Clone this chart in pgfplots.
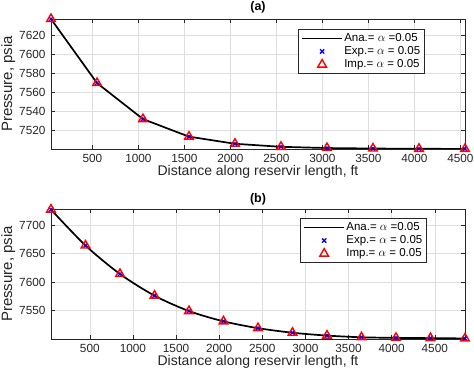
\documentclass[border=0pt]{standalone}
\usepackage{fontspec}
\setmainfont{Liberation Sans}
\usepackage{pgfplots}
\pgfplotsset{compat=1.18}
\definecolor{axgray}{RGB}{38,38,38}
\definecolor{gridgray}{RGB}{222,222,222}
\pgfplotsset{
  matstyle/.style={
    scale only axis, width=414pt, height=130pt,
    axis line style={axgray, line width=0.6pt},
    every tick/.style={axgray, line width=0.6pt},
    major tick length=4pt,
    tick align=inside,
    grid=major, grid style={gridgray, line width=0.5pt},
    tick label style={font=\fontsize{11.8}{13}\selectfont, text=axgray},
    xticklabel style={anchor=center, yshift=-9.5pt},
    yticklabel style={anchor=east, xshift=-2pt},
    /pgf/number format/assume math mode=true,
    /pgf/number format/1000 sep={},
    xtick={500,1000,...,4500},
    xlabel={Distance along reservir length, ft},
    ylabel={Pressure, psia},
    xlabel style={font=\fontsize{14}{16}\selectfont, text=axgray, at={(axis description cs:0.5,0)}, anchor=center, yshift=-23pt},
    ylabel style={font=\fontsize{15}{17}\selectfont, text=axgray, at={(axis description cs:-0.103,0.5)}, anchor=center},
    title style={font=\bfseries\fontsize{12.5}{14}\selectfont, at={(axis description cs:0.5,1)}, anchor=center},
    legend style={font=\fontsize{11.5}{13}\selectfont, draw=axgray, line width=0.6pt, fill=white,
      anchor=north east, inner xsep=3pt, inner ysep=2.5pt, row sep=0pt,
      nodes={text height=8pt, text depth=2.5pt, inner sep=1.3pt}},
    legend cell align=left,
  },
  ana/.style={black, line width=1.7pt, no marks,
    legend image code/.code={\draw[##1] (0pt,0pt) -- (40pt,0pt);}},
  expm/.style={blue, only marks, mark=x, mark size=3pt, line width=1.3pt,
    legend image code/.code={\path[draw=none,fill=none] (0pt,0pt) -- (40pt,0pt);
      \draw[##1, only marks] plot coordinates {(20pt,0pt)};}},
  impm/.style={red, only marks, mark=triangle, mark size=5pt, line width=1.4pt,
    legend image code/.code={\path[draw=none,fill=none] (0pt,0pt) -- (40pt,0pt);
      \draw[##1, only marks] plot coordinates {(20pt,0pt)};}},
}
\begin{document}
\begin{tikzpicture}
\useasboundingbox (0,0) rectangle (474pt,377pt);
% (a)
\begin{axis}[matstyle, at={(51pt,228pt)}, anchor=south west,
  xmin=50, xmax=4550, ymin=7500, ymax=7637,
  ytick={7520,7540,...,7620},
  title={(a)}, title style={yshift=5.5pt},
  legend style={at={(0.903,0.923)}}]
\addplot[ana] coordinates {(50,7637) (550,7569.5) (1050,7531.5) (1550,7513) (2050,7505.5) (2550,7502.3) (3050,7501) (3550,7500.5) (4050,7500.2) (4550,7500.1)};
\addlegendentry{Ana.= $\alpha$ =0.05}
\addplot[expm] coordinates {(50,7637) (550,7569.5) (1050,7531.5) (1550,7513) (2050,7505.5) (2550,7502.3) (3050,7501) (3550,7500.5) (4050,7500.2) (4550,7500.1)};
\addlegendentry{Exp.= $\alpha$ = 0.05}
\addplot[impm] coordinates {(50,7637) (550,7569.5) (1050,7531.5) (1550,7513) (2050,7505.5) (2550,7502.3) (3050,7501) (3550,7500.5) (4050,7500.2) (4550,7500.1)};
\addlegendentry{Imp.= $\alpha$ = 0.05}
\end{axis}
% (b)
\begin{axis}[matstyle, at={(51pt,38pt)}, anchor=south west,
  xmin=50, xmax=4850, ymin=7500, ymax=7728,
  ytick={7550,7600,7650,7700},
  title={(b)}, title style={yshift=4pt},
  legend style={at={(0.908,0.93)}}]
\addplot[ana, smooth] coordinates {(50,7727) (450,7664) (850,7614) (1250,7576) (1650,7549) (2050,7531) (2450,7519) (2850,7511) (3250,7506) (3650,7503) (4050,7502) (4450,7501.5) (4850,7501)};
\addlegendentry{Ana.= $\alpha$ =0.05}
\addplot[expm] coordinates {(50,7727) (450,7664) (850,7614) (1250,7576) (1650,7549) (2050,7531) (2450,7519) (2850,7511) (3250,7506) (3650,7503) (4050,7502) (4450,7501.5) (4850,7501)};
\addlegendentry{Exp.= $\alpha$ = 0.05}
\addplot[impm] coordinates {(50,7727) (450,7664) (850,7614) (1250,7576) (1650,7549) (2050,7531) (2450,7519) (2850,7511) (3250,7506) (3650,7503) (4050,7502) (4450,7501.5) (4850,7501)};
\addlegendentry{Imp.= $\alpha$ = 0.05}
\end{axis}
\end{tikzpicture}
\end{document}
